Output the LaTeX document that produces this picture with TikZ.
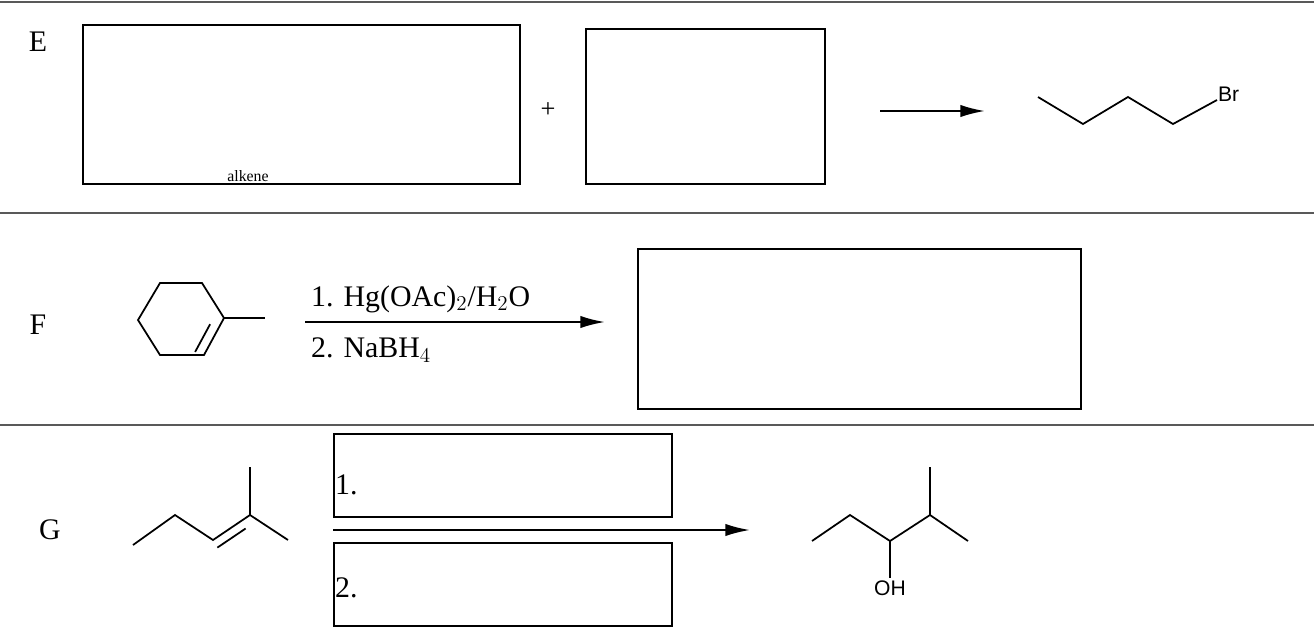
\documentclass[tikz,border=0pt]{standalone}
\usepackage{fontspec}
\setmainfont{Liberation Serif}
\newfontfamily\atomfont{Liberation Sans}
\usetikzlibrary{arrows.meta}

\tikzset{
  answer/.style={draw, line width=1.1pt, anchor=north west, inner sep=0pt},
  bond/.style={line width=1pt},
  rxn/.style={line width=1.2pt, -{Latex[length=14pt,width=7pt]}},
  rule/.style={line width=1.2pt, gray!70!black},
  tag/.style={font=\fontsize{17}{20}\selectfont},
  cond/.style={font=\fontsize{17}{20}\selectfont, anchor=west},
  atom/.style={font=\atomfont\fontsize{12}{14}\selectfont, inner sep=1pt}
}

\begin{document}
\begin{tikzpicture}[x=0.02cm, y=-0.02cm]
\useasboundingbox (0,0) rectangle (1314,633);

% separators
\coordinate (l0) at (0,2);    \coordinate (r0) at (1314,2);
\coordinate (l1) at (0,213);  \coordinate (r1) at (1314,213);
\coordinate (l2) at (0,425);  \coordinate (r2) at (1314,425);
\draw[rule] (l0) -- (r0);
\draw[rule] (l1) -- (r1);
\draw[rule] (l2) -- (r2);

% part E
\node[tag] (E) at (38,42) {E};
\node[answer, minimum width=437*0.02cm, minimum height=159*0.02cm] (alkbox) at (82,24) {};
\node[font=\fontsize{9}{10}\selectfont, inner sep=0pt] (alk) at (248,176) {alkene};
\node[font=\fontsize{15}{18}\selectfont] (plus) at (548,110) {+};
\node[answer, minimum width=239*0.02cm, minimum height=155*0.02cm] (reagbox) at (585,28) {};
\coordinate (e1) at (880,111);
\coordinate (e2) at (985,111);
\draw[rxn] (e1) -- (e2);
\coordinate (b1) at (1038,97);
\coordinate (b2) at (1083,124);
\coordinate (b3) at (1128,97);
\coordinate (b4) at (1173,124);
\coordinate (b5) at (1217,100);
\node[atom, anchor=west] (Br) at (1216,94) {Br};
\draw[bond] (b1) -- (b2) -- (b3) -- (b4) -- (b5);

% part F
\node[tag] (F) at (38,325) {F};
\coordinate (c1) at (160,283);
\coordinate (c2) at (202,283);
\coordinate (c3) at (224,318);
\coordinate (c4) at (204,355);
\coordinate (c5) at (160,355);
\coordinate (c6) at (138,320);
\coordinate (me) at (265,318);
\draw[bond] (c1) -- (c2) -- (c3) -- (c4) -- (c5) -- (c6) -- cycle;
\draw[bond] (c3) -- (me);
\draw[bond, shorten <=4pt, shorten >=2pt] ([xshift=-6]c3) -- ([xshift=-6]c4);
\coordinate (f1) at (305,322);
\coordinate (f2) at (605,322);
\draw[rxn] (f1) -- (f2);
\node[cond] (hg) at (305,299) {1. Hg(OAc)$_2$/H$_2$O};
\node[cond] (nab) at (305,350) {2. NaBH$_4$};
\node[answer, minimum width=443*0.02cm, minimum height=160*0.02cm] (prodbox) at (637,248) {};

% part G
\node[tag] (G) at (50,530) {G};
\coordinate (g1) at (133,545);
\coordinate (g2) at (175,515);
\coordinate (g3) at (213,540);
\coordinate (g4) at (250,515);
\coordinate (g5) at (250,467);
\coordinate (g6) at (288,540);
\draw[bond] (g1) -- (g2) -- (g3) -- (g4) -- (g6);
\draw[bond] (g4) -- (g5);
\draw[bond, shorten <=3pt, shorten >=3pt] ([yshift=-6]g3) -- ([yshift=-6]g4);
\node[answer, minimum width=338*0.02cm, minimum height=83*0.02cm] (step1) at (333,433) {};
\node[answer, minimum width=338*0.02cm, minimum height=83*0.02cm] (step2) at (333,542) {};
\node[cond, inner sep=1pt] (s1) at (333,485) {1.};
\node[cond, inner sep=1pt] (s2) at (333,588) {2.};
\coordinate (h1) at (333,530);
\coordinate (h2) at (750,530);
\draw[rxn] (h1) -- (h2);
\coordinate (p1) at (812,541);
\coordinate (p2) at (850,515);
\coordinate (p3) at (890,541);
\coordinate (p4) at (930,515);
\coordinate (p5) at (930,467);
\coordinate (p6) at (968,541);
\node[atom] (OH) at (890,588) {OH};
\draw[bond] (p1) -- (p2) -- (p3) -- (p4) -- (p6);
\draw[bond] (p4) -- (p5);
\draw[bond] (p3) -- (OH);
\end{tikzpicture}
\end{document}
